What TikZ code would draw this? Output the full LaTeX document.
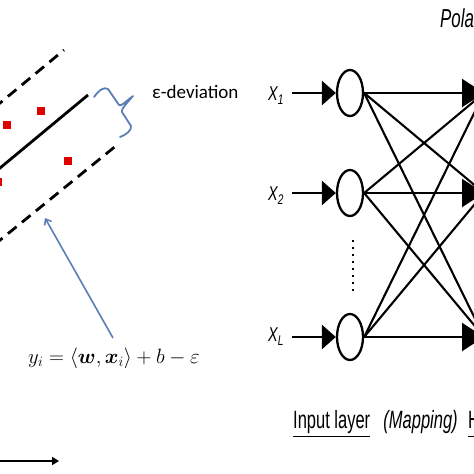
\documentclass[tikz,border=0pt]{standalone}
\usepackage{fontspec}
\usepackage{amsmath,bm}
\setmainfont{Liberation Sans}
\newfontfamily\calfont{Carlito}
\usetikzlibrary{arrows.meta,shapes.geometric}
\definecolor{sblue}{HTML}{5B7FB4}
\definecolor{sqred}{HTML}{E00000}
\newcommand{\xlabtext}[1]{\scalebox{0.72}[1]{\fontsize{20}{20}\selectfont\itshape X\raisebox{-4pt}{\fontsize{14}{14}\selectfont #1}}}
\begin{document}
\begin{tikzpicture}[x=1pt,y=-1pt,
  sq/.style={fill=sqred, minimum size=8pt, inner sep=0pt},
  dashline/.style={line width=2.8pt, dash pattern=on 11pt off 7pt},
  solidline/.style={line width=2.8pt},
  inp/.style={ellipse, draw, line width=2.3pt, minimum width=26pt, minimum height=46pt, inner sep=0pt},
  conn/.style={line width=2.1pt},
  inarrow/.style={line width=2.8pt, -{Triangle[length=14pt,width=24pt]}},
  outarrow/.style={line width=2.1pt, -{Triangle[length=22pt,width=28pt]}},
  lab/.style={anchor=base west, inner sep=0pt},
  bracestyle/.style={draw=sblue, line width=1.8pt, line join=round, line cap=round},
  bluearrow/.style={draw=sblue, line width=1.6pt, -{Straight Barb[length=5pt,width=8pt]}}]
\useasboundingbox (0,0) rectangle (474,474);
\clip (0,0) rectangle (474,474);
\fill[white] (0,0) rectangle (474,474);

% ---------- left: epsilon-tube ----------
\draw[dashline] (-6,108) -- (64,50);
\draw[solidline] (-6,173) -- (88,95);
\draw[dashline] (-6,245) -- (117,145);
\node[sq] (p1) at (41,111) {};
\node[sq] (p2) at (7,125) {};
\node[sq] (p3) at (68,161) {};
\node[sq] (p4) at (-2,182) {};

% brace
\draw[bracestyle] (94,97) .. controls (100,89) and (104,87) .. (108,89)
  -- (119,105) .. controls (121,107) and (126,101) .. (133,96)
  .. controls (126,104) and (121,109) .. (122,112)
  -- (131,126) .. controls (132,130) and (126,135) .. (120,137);
\node[lab] (eps) at (152,98) {\calfont\fontsize{19}{19}\selectfont ε-deviation};

\node[lab] (fm) at (28,363) {\fontsize{19.5}{20}\selectfont $y_i = \langle \bm{w}, \bm{x}_i\rangle + b - \varepsilon$};
\coordinate (ab) at (113,338);
\coordinate (at) at (45,218);
\draw[bluearrow] (ab) -- (at);

\coordinate (ba0) at (-2,461);
\coordinate (ba1) at (59,461);
\draw[line width=2.4pt, -{Triangle[length=7pt,width=8pt]}] (ba0) -- (ba1);

% ---------- right: network ----------
\node[lab] (pol) at (440,27) {\scalebox{0.65}[1]{\fontsize{26}{26}\selectfont\itshape Polar}};

\node[inp] (i1) at (350,93) {};
\node[inp] (i2) at (350,193) {};
\node[inp] (i3) at (350,337) {};

\node[lab] (x1) at (268,100) {\xlabtext{1}};
\node[lab] (x2) at (268,200) {\xlabtext{2}};
\node[lab] (x3) at (268,341) {\xlabtext{L}};

\coordinate (s1) at (292,93);
\coordinate (s2) at (292,193);
\coordinate (s3) at (292,337);
\draw[inarrow] (s1) -- (i1.west);
\draw[inarrow] (s2) -- (i2.west);
\draw[inarrow] (s3) -- (i3.west);

\coordinate (o1) at (484,93);
\coordinate (o2) at (484,193);
\coordinate (o3) at (484,337);

\draw[conn] (i1.east) -- (o2);
\draw[conn] (i1.east) -- (o3);
\draw[conn] (i2.east) -- (o1);
\draw[conn] (i2.east) -- (o3);
\draw[conn] (i3.east) -- (o1);
\draw[conn] (i3.east) -- (o2);
\draw[outarrow] (i1.east) -- (o1);
\draw[outarrow] (i2.east) -- (o2);
\draw[outarrow] (i3.east) -- (o3);

\coordinate (d0) at (353,240);
\coordinate (d1) at (353,294);
\draw[line width=2pt, dash pattern=on 2pt off 5pt] (d0) -- (d1);

\node[lab] (il) at (293,428) {\scalebox{0.66}[1]{\fontsize{25}{25}\selectfont\underline{Input layer}\hspace{20pt}\textit{(Mapping)}}};
\node[lab] (hl) at (468,428) {\scalebox{0.66}[1]{\fontsize{25}{25}\selectfont\underline{Hidden layer}}};
\end{tikzpicture}
\end{document}
